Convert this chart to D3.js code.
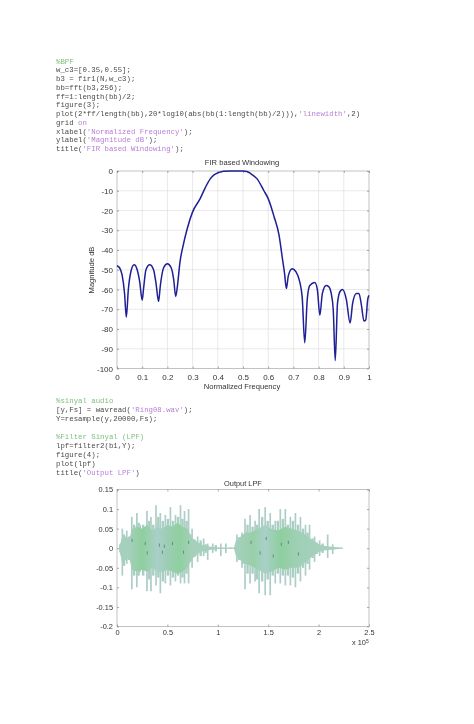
<!DOCTYPE html>
<html>
<head>
<meta charset="utf-8">
<script src="https://cdn.jsdelivr.net/npm/d3@7"></script>
<style>
  html, body { margin: 0; padding: 0; background: #fff; }
  svg { filter: blur(0.35px); }
  text { font-family: "Liberation Sans", Arial, sans-serif; }
  .code text { font-family: "Liberation Mono", monospace; font-size: 7.35px; }
  .domain { display: none; }
</style>
</head>
<body>
<svg id="chart" width="474" height="724"></svg>
<script>
// code listing above the figures: [text, kind] runs per line
const codeTop = [
  [['%BPF', 'c']],
  [['w_c3=[0.35,0.55];', 'k']],
  [['b3 = fir1(N,w_c3);', 'k']],
  [['bb=fft(b3,256);', 'k']],
  [['ff=1:length(bb)/2;', 'k']],
  [['figure(3);', 'k']],
  [['plot(2*ff/length(bb),20*log10(abs(bb(1:length(bb)/2))),', 'k'], ["'linewidth'", 's'], [',2)', 'k']],
  [['grid ', 'k'], ['on', 's']],
  [['xlabel(', 'k'], ["'Normalized Frequency'", 's'], [');', 'k']],
  [['ylabel(', 'k'], ["'Magnitude dB'", 's'], [');', 'k']],
  [['title(', 'k'], ["'FIR based Windowing'", 's'], [');', 'k']]
];
const codeBottom = [
  [['%sinyal audio', 'c']],
  [['[y,Fs] = wavread(', 'k'], ["'Ring08.wav'", 's'], [');', 'k']],
  [['Y=resample(y,20000,Fs);', 'k']],
  [['', 'k']],
  [['%Filter Sinyal (LPF)', 'c']],
  [['lpf=filter2(b1,Y);', 'k']],
  [['figure(4);', 'k']],
  [['plot(lpf)', 'k']],
  [['title(', 'k'], ["'Output LPF'", 's'], [')', 'k']]
];

// FIR magnitude response
const firFreq = [0, .01, .02, .03, .037, .045, .055, .068, .08, .09, .1, .105, .115, .13, .145, .155, .165, .172, .185, .2, .215, .225, .233, .24, .25, .262, .277, .3, .33, .35, .37, .385, .403, .423, .45, .48, .5, .515, .53, .556, .583, .6, .623, .643, .656, .665, .672, .68, .695, .71, .725, .735, .745, .755, .765, .785, .795, .805, .815, .83, .84, .85, .858, .866, .875, .885, .895, .91, .925, .935, .95, .96, .97, .98, .987, .995, 1];
const firDb = [-48, -49, -52.5, -62, -74, -60, -51, -47.5, -50, -56, -65.5, -60, -50, -47.5, -50, -57, -66, -58, -49, -47, -49, -55, -63.5, -58, -46, -38, -30, -20.7, -14, -8.5, -4, -2, -.8, -.1, 0, 0, 0, -.2, -1.3, -4, -10, -14, -23, -32.5, -44, -52, -59.5, -53, -49.5, -51, -56, -64, -87, -65, -58, -56.5, -60, -73, -62, -58, -58.5, -62, -70, -96, -67, -61, -60, -65, -77, -67, -62, -62, -68, -76, -75.5, -65, -63];

// audio output: tallest spikes of the waveform, x in units of 1e5 samples
const spikeX = [.03, .053, .097, .147, .197, .23, .297, .337, .387, .43, .48, .53, .58, .63, .67, .71, .745, .8, .86, .9, .95, 1.03, 1.08, 1.13, 1.19, 1.24, 1.27, 1.32, 1.37, 1.41, 1.47, 1.52, 1.57, 1.62, 1.67, 1.72, 1.77, 1.82, 1.87, 1.91, 1.96, 2.01, 2.09, 2.14];
const spikeHi = [.01, .05, .045, .08, .09, .06, .095, .08, .11, .09, .085, .105, .085, .11, .095, .1, .05, .03, .025, .012, .012, .012, .012, .002, .035, .04, .075, .085, .07, .1, .105, .09, .07, .1, .1, .08, .09, .08, .06, .06, .03, .02, .035, .01];
const spikeLo = [-.01, -.07, -.04, -.105, -.1, -.06, -.11, -.11, -.095, -.115, -.09, -.095, -.085, -.09, -.09, -.09, -.05, -.035, -.02, -.03, -.012, -.02, -.012, -.002, -.035, -.05, -.105, -.09, -.085, -.115, -.12, -.12, -.09, -.09, -.095, -.095, -.1, -.085, -.07, -.055, -.035, -.02, -.025, -.015];

// audio output: medium peaks between the tall spikes
const midX = [.07, .12, .17, .215, .26, .32, .36, .41, .455, .505, .555, .605, .65, .69, .73, .77, .83, .88, .98, 1.21, 1.25, 1.295, 1.345, 1.39, 1.44, 1.495, 1.545, 1.595, 1.645, 1.695, 1.745, 1.795, 1.845, 1.89, 1.94, 1.98, 2.04];
const midHi = [.035, .03, .06, .065, .06, .07, .06, .08, .07, .075, .07, .08, .075, .07, .035, .022, .02, .01, .008, .028, .035, .06, .055, .06, .08, .07, .06, .07, .075, .06, .07, .06, .05, .04, .025, .015, .012];
const midLo = [-.045, -.03, -.07, -.07, -.07, -.08, -.07, -.075, -.085, -.07, -.075, -.07, -.075, -.065, -.035, -.022, -.02, -.012, -.008, -.03, -.04, -.065, -.065, -.08, -.085, -.08, -.07, -.065, -.07, -.07, -.075, -.065, -.05, -.04, -.025, -.015, -.012];

// audio output: dense body of the waveform
const coreX = [.02, .05, .09, .12, .15, .2, .25, .3, .35, .4, .45, .5, .55, .6, .65, .7, .74, .8, .85, .9, 1, 1.1, 1.16, 1.18, 1.22, 1.27, 1.33, 1.4, 1.47, 1.53, 1.6, 1.67, 1.73, 1.8, 1.87, 1.93, 2, 2.05, 2.15, 2.24];
const coreHi = [.002, .028, .03, .022, .05, .055, .05, .06, .045, .055, .05, .06, .055, .065, .055, .05, .028, .015, .008, .005, .002, .001, .001, .02, .028, .04, .04, .05, .06, .05, .045, .055, .05, .045, .035, .022, .01, .006, .003, .001];
const coreLo = [-.002, -.035, -.03, -.025, -.055, -.06, -.055, -.06, -.05, -.06, -.06, -.055, -.06, -.065, -.06, -.05, -.028, -.015, -.008, -.005, -.002, -.001, -.001, -.02, -.03, -.04, -.045, -.055, -.065, -.06, -.05, -.055, -.05, -.05, -.035, -.022, -.01, -.006, -.003, -.001];

// colour drift of the waveform body, teal to green
const toneX = [0, .12, .25, .4, .5, .62, .75, 1.2, 1.35, 1.47, 1.62, 1.8, 2.25];
const toneColor = ['#a6d0c0', '#a4d0bc', '#8fce9e', '#a9d0c8', '#9ccdb4', '#90cf9f', '#a6d0bc', '#a6d0bc', '#98cfa8', '#a9d0c8', '#8fce9e', '#a0d0b8', '#a8d0c0'];

// darker specks where the trace overlaps itself
const speckX = [.15, .28, .3, .42, .45, .47, .55, .66, .71, 1.33, 1.42, 1.48, 1.55, 1.63, 1.7, 1.8];
const speckY = [.02, .012, -.012, .008, -.01, .005, .012, -.01, .015, .015, -.012, .025, -.02, .01, .015, -.015];

const firXTicks = [0, .1, .2, .3, .4, .5, .6, .7, .8, .9, 1];
const firYTicks = [0, -10, -20, -30, -40, -50, -60, -70, -80, -90, -100];
const audioXTicks = [0, .5, 1, 1.5, 2, 2.5];
const audioYTicks = [.15, .1, .05, 0, -.05, -.1, -.15, -.2];

const svg = d3.select('#chart');
const colors = { k: '#4a4a4a', c: '#7fbf7f', s: '#b77fd6' };
const plain = f => d => f(d).replace('\u2212', '-'); // matlab uses a hyphen, not a minus

function drawCode(lines, x, y0, step) {
  const g = svg.append('g').attr('class', 'code');
  lines.forEach((runs, i) => {
    const t = g.append('text').attr('x', x).attr('y', y0 + i * step).attr('xml:space', 'preserve');
    runs.forEach(r => t.append('tspan').attr('fill', colors[r[1]]).text(r[0]));
  });
}
drawCode(codeTop, 56, 63.5, 8.75);
drawCode(codeBottom, 56, 403, 9.05);

function frame(g, x, y, xTicks, yTicks, fmtX, fmtY, size, pad, grid) {
  const [x0, x1] = x.range();
  const [y1, y0] = y.range();
  if (grid) {
    g.append('g').selectAll('line').data(xTicks.slice(1, -1)).join('line')
      .attr('x1', d => x(d)).attr('x2', d => x(d)).attr('y1', y0).attr('y2', y1)
      .attr('stroke', '#e0e0e0').attr('stroke-width', .7);
    g.append('g').selectAll('line').data(yTicks.slice(1, -1)).join('line')
      .attr('x1', x0).attr('x2', x1).attr('y1', d => y(d)).attr('y2', d => y(d))
      .attr('stroke', '#e0e0e0').attr('stroke-width', .7);
  }
  g.append('rect').attr('x', x0).attr('y', y0).attr('width', x1 - x0).attr('height', y1 - y0)
    .attr('fill', 'none').attr('stroke', '#b4b4b4').attr('stroke-width', .8);

  const bottom = g.append('g').attr('transform', `translate(0,${y1})`)
    .call(d3.axisBottom(x).tickValues(xTicks).tickFormat(fmtX).tickSize(-2).tickPadding(pad));
  const left = g.append('g').attr('transform', `translate(${x0},0)`)
    .call(d3.axisLeft(y).tickValues(yTicks).tickFormat(fmtY).tickSize(-2).tickPadding(4));
  g.append('g').attr('transform', `translate(0,${y0})`)
    .call(d3.axisTop(x).tickValues(xTicks).tickFormat('').tickSize(-2));
  g.append('g').attr('transform', `translate(${x1},0)`)
    .call(d3.axisRight(y).tickValues(yTicks).tickFormat('').tickSize(-2));
  g.selectAll('.tick line').attr('stroke', '#707070').attr('stroke-width', .6);
  [bottom, left].forEach(a => a.selectAll('text')
    .style('font-size', size + 'px').attr('fill', '#333'));
}

// figure 3: FIR response
const firX = d3.scaleLinear().domain([0, 1]).range([117, 369]);
const firY = d3.scaleLinear().domain([-100, 0]).range([368.5, 171]);
const fig3 = svg.append('g');
frame(fig3, firX, firY, firXTicks, firYTicks, d3.format('~g'), plain(d3.format('d')), 8, 5.5, true);
fig3.append('path')
  .attr('d', d3.line().x((d, i) => firX(firFreq[i])).y(d => firY(d)).curve(d3.curveMonotoneX)(firDb))
  .attr('fill', 'none').attr('stroke', '#1f1f96').attr('stroke-width', 1.5);
fig3.append('text').attr('x', 242).attr('y', 165).attr('text-anchor', 'middle')
  .style('font-size', '7.6px').attr('fill', '#333').text('FIR based Windowing');
fig3.append('text').attr('x', 242).attr('y', 389).attr('text-anchor', 'middle')
  .style('font-size', '7.6px').attr('fill', '#333').text('Normalized Frequency');
fig3.append('text').attr('transform', 'translate(94,270) rotate(-90)').attr('text-anchor', 'middle')
  .style('font-size', '7.6px').attr('fill', '#333').text('Magnitude dB');

// figure 4: filtered audio
const audX = d3.scaleLinear().domain([0, 2.5]).range([117, 369]);
const audY = d3.scaleLinear().domain([-.2, .15]).range([626.5, 489.5]);
const fig4 = svg.append('g');
frame(fig4, audX, audY, audioXTicks, audioYTicks, d3.format('~g'), plain(d3.format('~g')), 7.4, 3, false);

const grad = svg.append('defs').append('linearGradient').attr('id', 'tone')
  .attr('gradientUnits', 'userSpaceOnUse')
  .attr('x1', audX(0)).attr('x2', audX(2.25)).attr('y1', 0).attr('y2', 0);
grad.selectAll('stop').data(toneX).join('stop')
  .attr('offset', d => d / 2.25).attr('stop-color', (d, i) => toneColor[i]);

fig4.append('line').attr('x1', audX(.02)).attr('x2', audX(2.24))
  .attr('y1', audY(0)).attr('y2', audY(0)).attr('stroke', '#7aa8a0').attr('stroke-width', .6);
fig4.append('g').selectAll('line').data(spikeX).join('line')
  .attr('x1', d => audX(d)).attr('x2', d => audX(d))
  .attr('y1', (d, i) => audY(spikeHi[i])).attr('y2', (d, i) => audY(spikeLo[i]))
  .attr('stroke', '#aecdc8').attr('stroke-width', 1.7);
fig4.append('g').selectAll('line').data(midX).join('line')
  .attr('x1', d => audX(d)).attr('x2', d => audX(d))
  .attr('y1', (d, i) => audY(midHi[i])).attr('y2', (d, i) => audY(midLo[i]))
  .attr('stroke', '#a8d0c0').attr('stroke-width', 2.4);
fig4.append('path')
  .attr('d', d3.area().x((d, i) => audX(coreX[i])).y0((d, i) => audY(coreLo[i])).y1(d => audY(d))(coreHi))
  .attr('fill', 'url(#tone)');
fig4.append('g').selectAll('line').data(speckX).join('line')
  .attr('x1', d => audX(d)).attr('x2', d => audX(d))
  .attr('y1', (d, i) => audY(speckY[i] + .004)).attr('y2', (d, i) => audY(speckY[i] - .004))
  .attr('stroke', '#4f8a80').attr('stroke-width', .9);

fig4.append('text').attr('x', 243).attr('y', 486).attr('text-anchor', 'middle')
  .style('font-size', '7.4px').attr('fill', '#333').text('Output LPF');
const mult = fig4.append('text').attr('x', 352).attr('y', 645).style('font-size', '7.4px').attr('fill', '#333');
mult.append('tspan').text('x 10');
mult.append('tspan').attr('dy', -2.5).style('font-size', '5px').text('5');
</script>
</body>
</html>
